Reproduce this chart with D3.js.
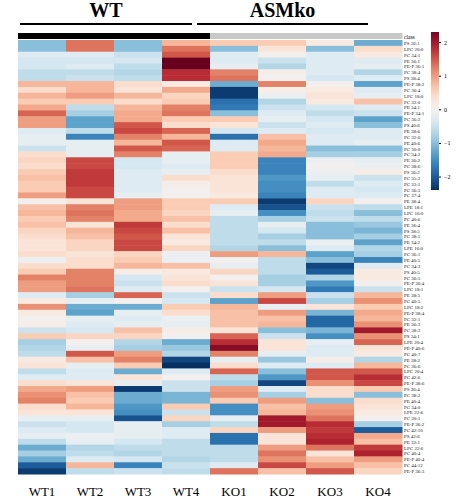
<!DOCTYPE html>
<html>
<head>
<meta charset="UTF-8">
<style>
  body { margin: 0; background: #fff; }
  text { font-family: "Liberation Serif", serif; }
</style>
</head>
<body>
<svg id="chart" width="474" height="504"></svg>
<script src="https://d3js.org/d3.v7.min.js"></script>
<script>
const samples = ["WT1", "WT2", "WT3", "WT4", "KO1", "KO2", "KO3", "KO4"];
const groups = ["WT", "WT", "WT", "WT", "ASMko", "ASMko", "ASMko", "ASMko"];
const colorTicks = [2, 1, 0, -1, -2];

const lipids = ["PS 36:1","LPC 20:0","PC 34:1","PE 36:1","PE-P 36:1","PC 38:4","PS 38:4","PE-P 38:2","PC 36:4","LPC 18:0",
  "PC 32:0","PE 34:1","PE-P 34:1","PC 36:2","PS 40:6","PE 38:6","PC 32:0","PE 40:6","PC 30:0","PC 34:2",
  "PE 36:2","PC 38:6","PS 36:2","PC 35:2","PC 33:1","PC 36:3","PC 37:4","PE 38:4","LPE 18:1","LPC 16:0",
  "PC 40:6","PE 36:4","PS 38:5","PC 38:5","PE 34:2","LPE 16:0","PC 36:1","PE 40:5","PC 34:3","PS 40:5",
  "PC 36:5","PE-P 36:4","LPC 18:1","PE 38:5","PC 40:5","LPC 18:2","PE-P 38:4","PC 32:1","PE 36:3","PC 38:3",
  "PS 34:1","LPE 20:4","PE-P 40:6","PC 40:7","PE 38:2","PC 36:6","LPC 20:4","PC 42:6","PE-P 38:6","PS 36:4",
  "PC 38:2","PE 40:4","PC 34:0","LPE 22:6","PC 30:1","PE-P 36:2","PC 42:10","PS 42:6","PE 32:1","LPC 22:6",
  "PC 40:4","PE-P 40:4","PC 44:12","PE-P 36:3"];

const values = [
  [-1, 1.3, -1, 0.8, 0.6, 0.6, 0.2, -1.2],
  [-1, 1.3, -1, 1.3, -1, 0.3, -1, 0.4],
  [-0.3, -0.3, -0.5, 1.5, -0.3, 0, -0.3, 0.2],
  [-0.4, -0.4, -0.4, 2.4, -0.3, -0.5, -0.3, -0.3],
  [-0.4, -0.3, -0.6, 2.4, -0.2, -0.7, -0.3, -0.2],
  [-0.6, -0.6, -0.7, 1.8, 1.2, 0.1, -0.3, -0.7],
  [-0.6, -0.5, -0.6, 1.8, 1.3, 0, -0.4, -0.3],
  [0.8, 0.8, 0.4, 0.2, -1.2, 1.2, 0, -1.3],
  [0.4, 0.8, 0.3, 0.9, -2.3, 0.1, 0.2, -0.3],
  [0.8, 1, 0.8, 0.5, -2.3, -0.1, 0.3, -0.2],
  [0.6, 0.6, 0.4, 0.6, -1.8, -0.7, 0.2, 0.7],
  [0.9, -0.6, 0.8, 1.2, -1.7, -0.5, -0.4, -0.3],
  [1.4, -0.8, 0.9, 1.3, -1, -0.3, -0.6, -0.5],
  [1, -1.3, 0.9, 0.6, 0.6, -0.2, -0.4, -1.3],
  [1, -1.3, 1.5, 0.4, 0.3, -0.5, -0.3, -1],
  [-0.3, -0.6, 1.6, 1.4, -0.4, -0.3, -0.4, -0.3],
  [-0.2, -1.6, 1.2, 0.8, -1.8, 0.7, -0.3, -0.3],
  [-0.2, -0.2, 0.8, 1.5, -0.3, 0.9, -0.3, -0.2],
  [-0.5, -0.2, 1.5, 1.4, -0.3, 0.8, -1, -1],
  [0.4, -0.2, 1.2, -0.2, 0.6, 0.9, -0.8, -0.8],
  [0.5, 1.6, -0.4, -0.2, 0.6, -1.6, -0.1, -0.2],
  [0.4, 1.6, -0.4, -0.3, 0.6, -1.6, 0, -0.1],
  [0.6, 1.7, -0.3, -0.2, 0.4, -1.6, -0.1, 0.1],
  [0.7, 1.7, -0.3, 0.4, 0.3, -1.4, -0.2, -0.5],
  [0.6, 1.7, -0.3, 0.1, 0.3, -1.5, -0.6, -0.3],
  [0.6, 1.6, -0.3, 0, 0.3, -1.5, -0.3, -0.4],
  [1, 1.6, -0.2, 0, 0.2, -1.6, -0.3, -0.3],
  [0, 0.3, 1, 0.6, 0.6, -2.3, 0.5, 0],
  [0.7, 1.2, 1, 0.6, -0.3, -2.1, -0.5, -0.6],
  [0.8, 1.3, 0.9, 0.5, -0.2, -1.5, -0.6, -1],
  [0.6, 1.2, 0.9, 0.7, -0.6, -0.8, -0.5, -0.6],
  [0.7, 0.3, 1.7, 0.4, -0.6, -0.2, -1, -0.9],
  [0.5, 0.8, 1.6, 0.7, -0.6, -0.4, -1, -1.1],
  [0.4, 0.7, 1.5, 0.3, -0.6, -0.8, -1, -0.8],
  [0.3, 0.5, 1.6, 0.2, -0.6, -0.6, -0.1, -1.3],
  [0.3, 0.5, 1.6, 0.5, -0.7, -1, -0.3, -0.7],
  [0.4, 0.3, 0.5, -0.1, 1, 0.8, -1.3, -0.8],
  [-0.1, 0.4, 0.6, -0.1, 0, -0.6, -1, -1.6],
  [0.4, 0.4, 0.8, 0.7, -0.2, -0.6, -2.2, -0.3],
  [0.6, 1.2, 0.1, 0.2, 0.5, -0.6, -2, 0.2],
  [1.2, 1.2, -0.4, 0.3, 0, -0.8, -0.7, 0.2],
  [1, 1.2, -0.5, 0.4, 0.3, -0.8, -1.4, 0],
  [1, 1.3, -0.3, 0, -0.5, -0.4, -1.7, -0.5],
  [-0.3, -0.8, 1.4, -0.5, 0.4, 1, -0.5, 0.8],
  [0.2, -0.2, 0, -0.4, -1.3, 1.6, -0.8, 1.1],
  [1.1, -1.2, -1.2, 0.6, 0.8, -0.2, 0.3, 0.6],
  [0.2, -1.3, -0.2, 0.4, 0.7, 1, -1.1, 0.9],
  [0, -0.2, -0.3, -0.1, 0.7, 0.7, -1.9, 0.8],
  [0.1, -0.3, -0.2, -0.2, 0.7, 0.8, -1.9, 1.1],
  [-0.5, -0.4, 0.7, 0.1, 0.3, -1, -1.1, 2],
  [0.6, 0.5, 0.5, 0, 1.4, -0.5, -1.5, 1.1],
  [-0.8, 0, -0.7, -1.2, 1.8, 0.3, -0.2, 1.4],
  [-0.7, -0.2, -0.8, -0.9, 2.2, 0.3, -0.3, 0.3],
  [-0.6, 1.5, 1, -0.7, 1.2, -0.2, -0.3, 0.2],
  [0.2, 0.7, 1.2, -2.2, -0.2, -0.9, 0.1, -0.7],
  [0.3, -0.2, 0.6, -2.4, 0.4, -0.3, -0.3, 0.8],
  [-0.6, -0.3, -1.2, -0.3, 1.4, -1, 1.5, 1.5],
  [-0.3, -0.3, 0.3, 0, -0.6, -1.4, 1.5, 1.8],
  [0.4, 0.3, -0.2, -0.5, -0.8, -2.2, 1.1, 1.6],
  [0.9, 1, -2.3, -0.5, 1, -0.3, 0.4, 0.6],
  [1.1, 0.7, -1.2, -1.1, 1.1, -0.8, 0.4, -1],
  [1.2, 0.6, -1.2, -1.1, 0.6, 1, -1, 0.4],
  [0.4, 0.8, -1.4, 0.6, -1.5, 0.7, 1, 0.3],
  [0.3, 0.3, -1.5, -0.5, -1.5, 0.8, 1.1, 0.2],
  [-0.2, -0.2, -2.1, 0.5, -0.2, 2, 1.3, 0],
  [-0.5, -0.4, -0.2, -0.8, -0.6, 2, 1.8, -0.8],
  [-0.3, -0.4, -0.2, -0.3, 0.5, 1, 1.7, -2],
  [-0.2, -0.1, -0.2, -0.3, -1.8, 0.3, 1.8, 0.9],
  [-0.6, -0.2, -0.4, -0.6, -1.8, 0.3, 1.9, 0.7],
  [-1.2, -0.7, -0.6, -0.6, -0.6, 1, 1.3, 1.7],
  [-0.8, -0.6, -0.7, -0.6, -0.6, 1.3, 0.3, 1.9],
  [-1.2, -0.3, -0.4, -0.7, -0.6, 1.1, 0.7, 1],
  [-2, 0.8, -1.6, -0.5, -0.3, 1.6, 1, 0.7],
  [-2.3, -0.6, -0.5, -0.6, 1.3, 0.7, 1.5, 0.5]
];

const svg = d3.select("#chart");
const mapLeft = 18, mapRight = 402, mapTop = 40, mapBottom = 474;

const x = d3.scaleBand().domain(samples).range([mapLeft, mapRight]);
const y = d3.scaleBand().domain(d3.range(values.length)).range([mapTop, mapBottom]);
const color = d3.scaleSequential(t => d3.interpolateRdBu(1 - t)).domain([-2.4, 2.4]);

// cells
values.forEach((row, i) => {
  svg.selectAll(null).data(row).enter().append("rect")
    .attr("x", (d, j) => x(samples[j]))
    .attr("y", y(i))
    .attr("width", x.bandwidth() + 0.5)
    .attr("height", y.bandwidth() + 0.5)
    .attr("fill", d => color(d));
});

// class bar
svg.selectAll(".cls").data(samples).enter().append("rect")
  .attr("x", d => x(d)).attr("y", 33)
  .attr("width", x.bandwidth() + 0.5).attr("height", 6)
  .attr("fill", (d, j) => groups[j] === "WT" ? "#000" : "#c8c8c8");
svg.append("text").attr("x", 404).attr("y", 38.5)
  .attr("font-size", 5.5).attr("font-family", "DejaVu Sans").text("class");

// group lines and titles
const groupNames = ["WT", "ASMko"];
const groupLines = [[20, 192], [197, 368]];
groupNames.forEach((g, k) => {
  svg.append("line").attr("x1", groupLines[k][0]).attr("x2", groupLines[k][1])
    .attr("y1", 24).attr("y2", 24).attr("stroke", "#000").attr("stroke-width", 2);
  svg.append("text").attr("x", (groupLines[k][0] + groupLines[k][1]) / 2).attr("y", 17)
    .attr("text-anchor", "middle").attr("font-size", 20).attr("font-weight", "bold").text(g);
});

// row labels
svg.selectAll(".rl").data(lipids).enter().append("text")
  .attr("x", 404).attr("y", (d, i) => y(i) + y.bandwidth() / 2 + 2)
  .attr("font-size", 5).attr("font-family", "DejaVu Sans").attr("fill", "#222")
  .text(d => d);

// column labels
svg.selectAll(".cl").data(samples).enter().append("text")
  .attr("x", d => x(d) + x.bandwidth() / 2).attr("y", 496)
  .attr("text-anchor", "middle").attr("font-size", 13).text(d => d);

// colour bar
const cb = d3.scaleLinear().domain([2.3, -2.4]).range([32, 190]);
const defs = svg.append("defs");
const grad = defs.append("linearGradient").attr("id", "cbg")
  .attr("x1", 0).attr("x2", 0).attr("y1", 0).attr("y2", 1);
d3.range(0, 1.001, 0.05).forEach(t => {
  grad.append("stop").attr("offset", t).attr("stop-color", color(2.3 - t * 4.7));
});
svg.append("rect").attr("x", 431).attr("y", 32).attr("width", 8).attr("height", 158)
  .attr("fill", "url(#cbg)");
const cbAxis = svg.append("g").attr("transform", "translate(439,0)")
  .call(d3.axisRight(cb).tickValues(colorTicks).tickSize(2).tickFormat(d3.format("d")));
cbAxis.select(".domain").remove();
cbAxis.selectAll("text").attr("font-size", 6).attr("font-family", "DejaVu Sans");
</script>
</body>
</html>
